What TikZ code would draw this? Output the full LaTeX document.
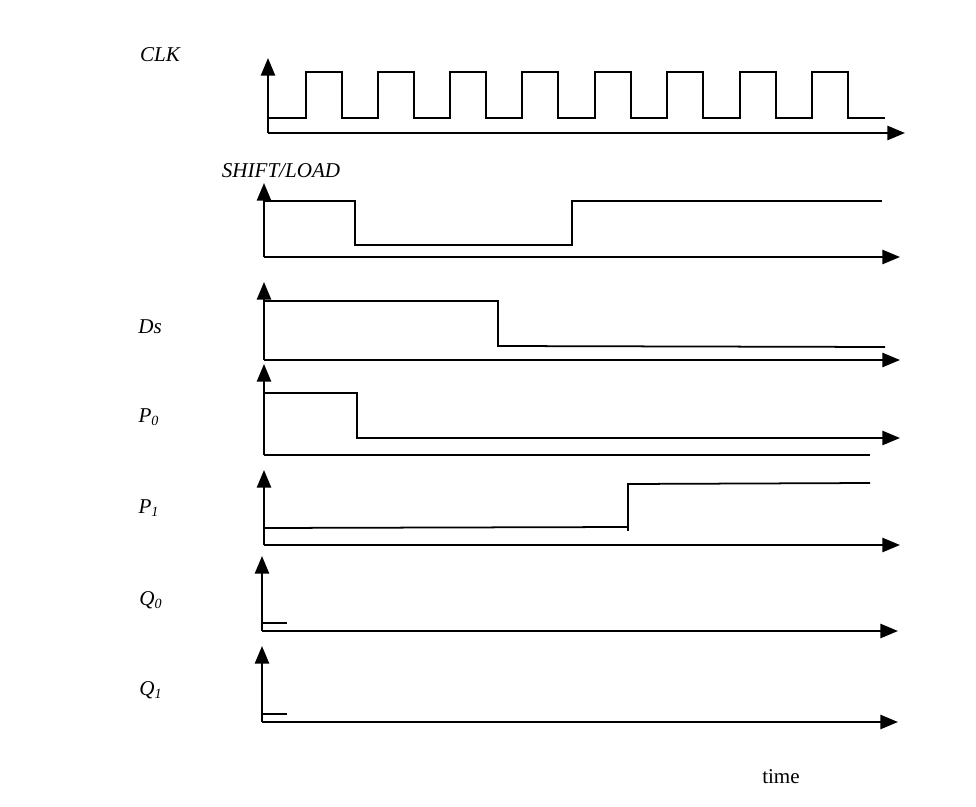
\documentclass[tikz,border=0pt]{standalone}
\usepackage{fontspec}
\setmainfont{Liberation Serif}
\usetikzlibrary{arrows.meta}
\begin{document}
\begin{tikzpicture}[x=0.02cm,y=-0.02cm,
  ax/.style={line width=1.3pt,-{Triangle[length=10pt,width=8pt]}},
  axn/.style={line width=1.3pt},
  wave/.style={line width=1pt},
  lbl/.style={font=\itshape\fontsize{12}{14}\selectfont}]
\useasboundingbox (0,0) rectangle (976,807);
% CLK
\node[lbl] (lclk) at (160,55) {CLK};
\coordinate (o1) at (268,133);
\draw[ax] (o1) -- (268,58);
\draw[ax] (o1) -- (905,133);
\draw[wave] (268,118) -- (306,118)
  \foreach \r in {306,378,450,522,595,667,740,812}{ -- (\r,118) -- (\r,72) -- ({\r+36},72) -- ({\r+36},118)} -- (885,118);
% SHIFT/LOAD
\node[lbl] (lsl) at (281,171) {SHIFT/LOAD};
\coordinate (o2) at (264,257);
\draw[ax] (o2) -- (264,183);
\draw[ax] (o2) -- (900,257);
\draw[wave] (264,201) -- (355,201) -- (355,245) -- (572,245) -- (572,201) -- (882,201);
% Ds
\node[lbl] (lds) at (150,327) {Ds};
\coordinate (o3) at (264,360);
\draw[ax] (o3) -- (264,282);
\draw[ax] (o3) -- (900,360);
\draw[wave] (264,301) -- (498,301) -- (498,346) -- (885,347);
% P0
\node[lbl] (lp0) at (149,417) {P\textsubscript{0}};
\coordinate (o4) at (264,455);
\draw[ax] (o4) -- (264,364);
\draw[axn] (o4) -- (870,455);
\draw[ax] (264,393) -- (357,393) -- (357,438) -- (900,438);
% P1
\node[lbl] (lp1) at (149,508) {P\textsubscript{1}};
\coordinate (o5) at (264,545);
\draw[ax] (o5) -- (264,470);
\draw[ax] (o5) -- (900,545);
\draw[wave] (264,528) -- (628,527) -- (628,484) -- (870,483);
\draw[wave] (628,527) -- (628,531);
% Q0
\node[lbl] (lq0) at (151,600) {Q\textsubscript{0}};
\coordinate (o6) at (262,631);
\draw[ax] (o6) -- (262,556);
\draw[ax] (o6) -- (898,631);
\draw[wave] (262,623) -- (287,623);
% Q1
\node[lbl] (lq1) at (151,690) {Q\textsubscript{1}};
\coordinate (o7) at (262,722);
\draw[ax] (o7) -- (262,646);
\draw[ax] (o7) -- (898,722);
\draw[wave] (262,714) -- (287,714);
\node[font=\fontsize{12}{14}\selectfont] (ltime) at (781,777) {time};
\end{tikzpicture}
\end{document}
